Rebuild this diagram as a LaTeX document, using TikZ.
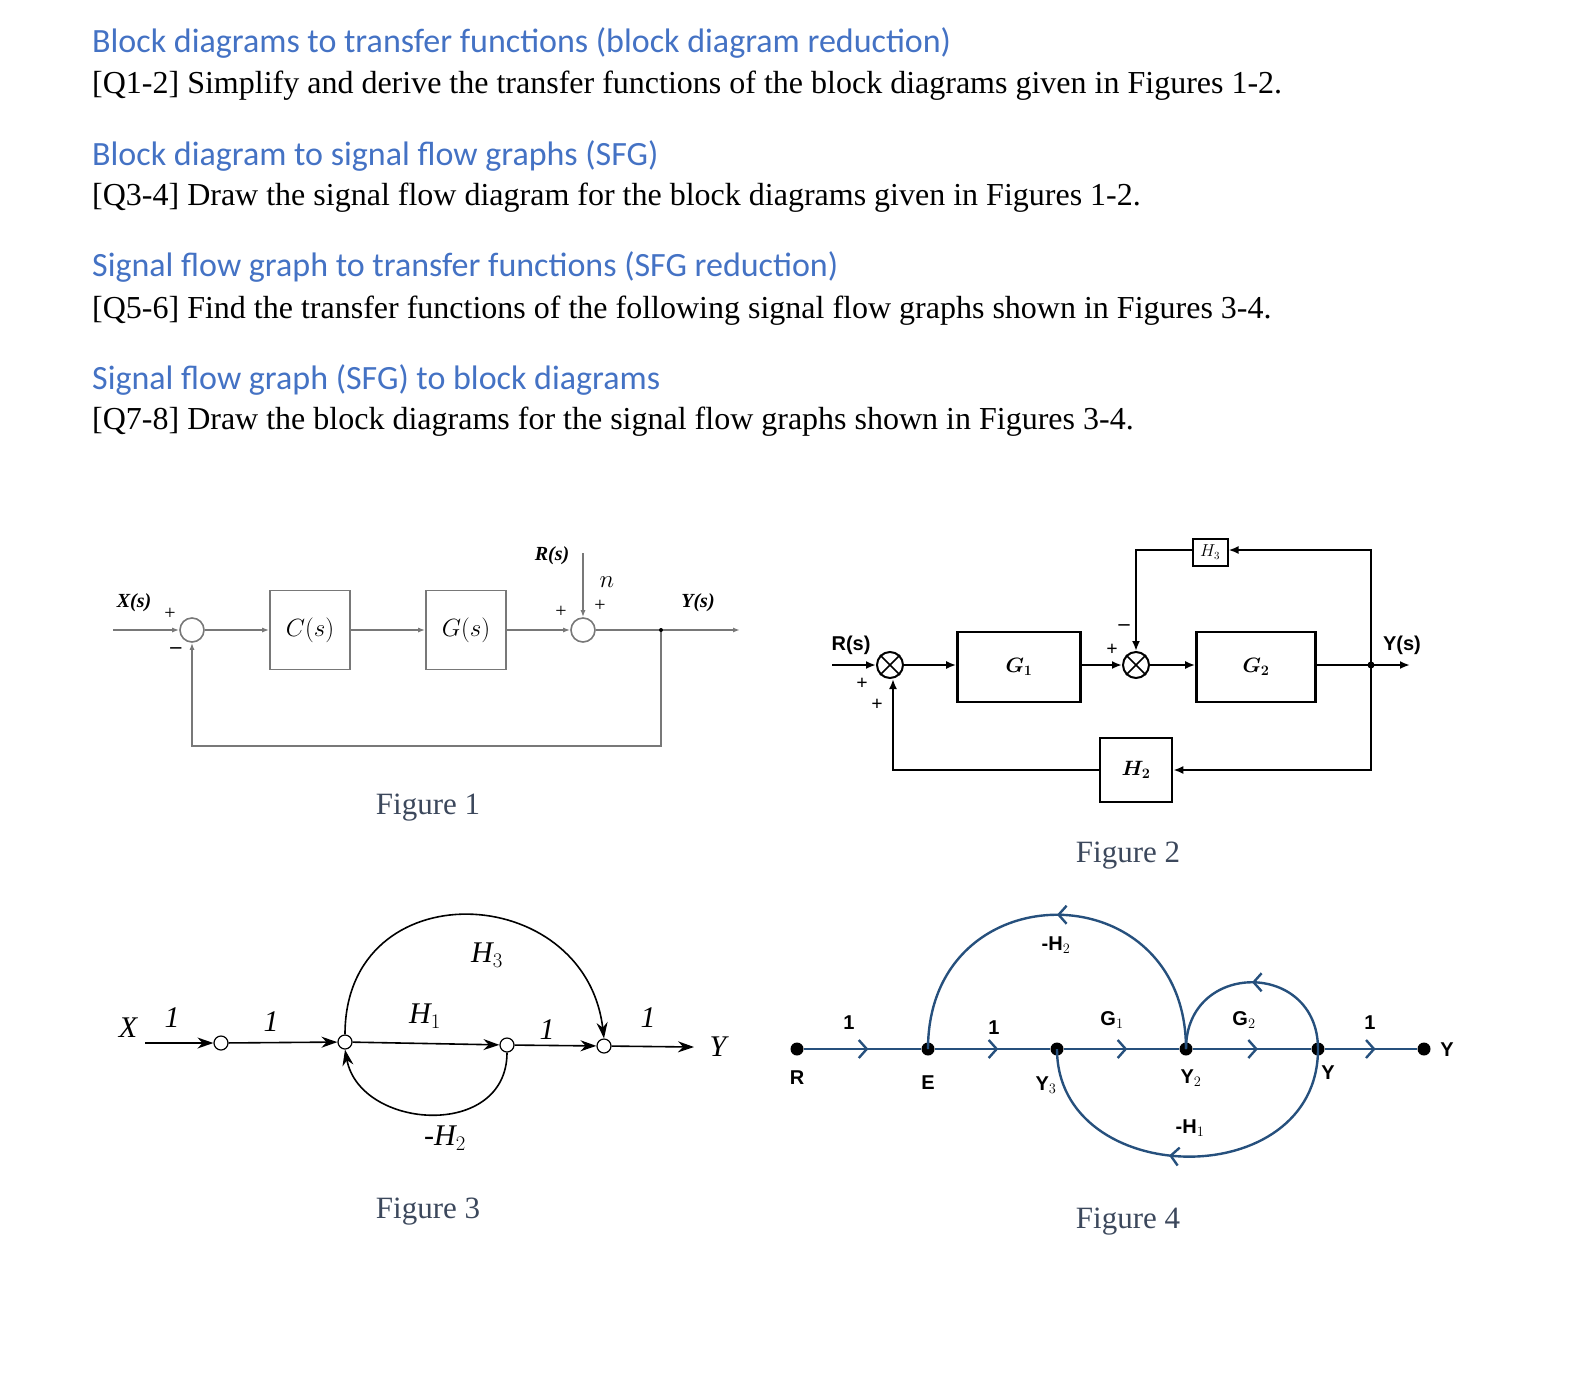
\documentclass[tikz,border=0pt]{standalone}
\usepackage{amsmath}
\usepackage{fontspec}
\setmainfont{Liberation Serif}
\newfontfamily\hfont{Carlito}
\newfontfamily\sfb{Liberation Sans}
\usetikzlibrary{arrows.meta,decorations.markings}
\definecolor{hblue}{RGB}{68,114,196}
\definecolor{sfgblue}{RGB}{38,80,125}
\definecolor{capc}{RGB}{60,72,92}
\definecolor{fgray}{RGB}{120,120,120}
\tikzset{
 head/.style={anchor=west,text=hblue,font=\hfont\fontsize{34}{40}\selectfont,inner sep=0},
 body/.style={anchor=west,font=\fontsize{32}{38}\selectfont,inner sep=0},
 figcap/.style={text=capc,font=\fontsize{31}{36}\selectfont},
 gline/.style={draw=fgray,line width=1.6pt},
 garr/.style={gline,-{Latex[length=7pt,width=5pt]}},
 gbox/.style={draw=fgray,line width=1.6pt,minimum width=80pt,minimum height=79pt,font=\fontsize{30}{30}\selectfont},
 glab/.style={font=\fontsize{20}{20}\selectfont\bfseries\itshape,inner sep=0},
 bline/.style={line width=2.6pt},
 barr/.style={bline,-{Latex[length=10pt,width=8pt]}},
 bbox/.style={draw,line width=2.6pt,font=\fontsize{22}{22}\selectfont},
 blab/.style={font=\sfb\bfseries\fontsize{20}{20}\selectfont,inner sep=0},
 tnode/.style={circle,draw,line width=1.2pt,fill=white,minimum size=14pt,inner sep=0},
 tarr/.style={line width=1.6pt,-{Stealth[length=16pt,width=11pt]}},
 tlab/.style={font=\itshape\fontsize{30}{30}\selectfont,inner sep=0},
 snode/.style={circle,fill=black,minimum size=13pt,inner sep=0},
 sline/.style={draw=sfgblue,line width=2.4pt},
 smid/.style={sline,postaction={decorate},decoration={markings,mark=at position #1 with {\arrow[sfgblue,line width=2.4pt]{Straight Barb[length=8pt,width=18pt]}}}},
 slab/.style={font=\sfb\bfseries\fontsize{20}{20}\selectfont,inner sep=0},
}
\begin{document}
\begin{tikzpicture}[x=1pt,y=-1pt]
\useasboundingbox (0,0) rectangle (1576,1374);
% texts
\node[head] (h1) at (92,43) {Block diagrams to transfer functions (block diagram reduction)};
\node[body] (b1) at (92,86) {[Q1-2] Simplify and derive the transfer functions of the block diagrams given in Figures 1-2.};
\node[head] (h2) at (92,156) {Block diagram to signal flow graphs (SFG)};
\node[body] (b2) at (92,198) {[Q3-4] Draw the signal flow diagram for the block diagrams given in Figures 1-2.};
\node[head] (h3) at (92,267) {Signal flow graph to transfer functions (SFG reduction)};
\node[body] (b3) at (92,311) {[Q5-6] Find the transfer functions of the following signal flow graphs shown in Figures 3-4.};
\node[head] (h4) at (92,380) {Signal flow graph (SFG) to block diagrams};
\node[body] (b4) at (92,422) {[Q7-8] Draw the block diagrams for the signal flow graphs shown in Figures 3-4.};

% ---------- Figure 1
\coordinate (f1in) at (113,630);
\node[circle,draw=fgray,line width=1.6pt,minimum size=24pt,inner sep=0] (s1) at (192,630) {};
\node[gbox] (C) at (310,630) {$C(s)$};
\node[gbox] (G) at (466,630) {$G(s)$};
\node[circle,draw=fgray,line width=1.6pt,minimum size=24pt,inner sep=0] (s2) at (583,630) {};
\coordinate (f1R) at (583,553);
\coordinate (f1b) at (661,630);
\coordinate (f1out) at (740,630);
\coordinate (f1d1) at (661,746);
\coordinate (f1d2) at (192,746);
\draw[garr] (f1in) -- (s1);
\draw[garr] (s1) -- (C);
\draw[garr] (C) -- (G);
\draw[garr] (G) -- (s2);
\draw[garr] (f1R) -- (s2);
\draw[garr] (s2) -- (f1out);
\draw[garr] (f1b) -- (f1d1) -- (f1d2) -- (s1);
\fill (f1b) circle (2pt);
\node[glab] (lx) at (134,603) {X(s)};
\node[font=\fontsize{20}{20}\selectfont] (p1) at (170,614) {+};
\node[font=\fontsize{22}{22}\selectfont] (m1) at (176,651) {\textbf{--}};
\node[font=\fontsize{20}{20}\selectfont] (p2) at (561,612) {+};
\node[font=\fontsize{20}{20}\selectfont] (p3) at (600,606) {+};
\node[font=\fontsize{24}{24}\selectfont] (ln) at (607,582) {$n$};
\node[glab] (lR) at (552,556) {R(s)};
\node[glab] (lY) at (698,603) {Y(s)};
\node[figcap] (c1) at (428,808) {Figure 1};

% ---------- Figure 2
\coordinate (f2in) at (832,665);
\node[circle,draw,line width=2pt,minimum size=26pt,inner sep=0] (x1) at (890,665) {};
\draw[line width=1.6pt] (x1.north west)--(x1.south east) (x1.north east)--(x1.south west);
\node[bbox,minimum width=123pt,minimum height=70pt] (G1) at (1019,667) {$\boldsymbol{G_1}$};
\node[circle,draw,line width=2pt,minimum size=26pt,inner sep=0] (x2) at (1136,665) {};
\draw[line width=1.6pt] (x2.north west)--(x2.south east) (x2.north east)--(x2.south west);
\node[bbox,minimum width=119pt,minimum height=70pt] (G2) at (1256,667) {$\boldsymbol{G_2}$};
\node[bbox,minimum width=35pt,minimum height=27pt,line width=2pt,font=\fontsize{16}{16}\selectfont] (H3) at (1210,552) {$H_3$};
\node[bbox,minimum width=72pt,minimum height=64pt] (H2) at (1136,770) {$\boldsymbol{H_2}$};
\coordinate (f2b) at (1371,665);
\coordinate (f2out) at (1410,665);
\coordinate (f2t) at (1371,550);
\coordinate (f2tl) at (1136,550);
\coordinate (f2bt) at (1371,770);
\coordinate (f2bl) at (893,770);
\draw[barr] (f2in) -- (x1);
\draw[barr] (x1) -- (G1.west|-x1);
\draw[barr] (G1.east|-x2) -- (x2);
\draw[barr] (x2) -- (G2.west|-x2);
\draw[barr] (G2.east|-f2b) -- (f2out);
\draw[barr] (f2b) -- (f2t) -- (H3.east|-f2t);
\draw[barr] (H3.west|-f2t) -- (f2tl) -- (x2);
\draw[barr] (f2b) -- (f2bt) -- (H2.east|-f2bt);
\draw[barr] (H2.west|-f2bt) -- (f2bl) -- (x1.south-|f2bl);
\fill (f2b) circle (3.5pt);
\node[blab] (lR2) at (851,645) {R(s)};
\node[blab] (lY2) at (1402,645) {Y(s)};
\node[font=\bfseries\fontsize{20}{20}\selectfont] (p4) at (862,684) {+};
\node[font=\bfseries\fontsize{20}{20}\selectfont] (p5) at (877,705) {+};
\node[font=\bfseries\fontsize{22}{22}\selectfont] (m2) at (1124,628) {--};
\node[font=\bfseries\fontsize{20}{20}\selectfont] (p6) at (1112,650) {+};
\node[figcap] (c2) at (1128,856) {Figure 2};

% ---------- Figure 3
\coordinate (f3in) at (145,1043);
\node[tnode] (n1) at (221,1043) {};
\node[tnode] (n2) at (345,1042) {};
\node[tnode] (n3) at (507,1045) {};
\node[tnode] (n4) at (604,1046) {};
\coordinate (f3out) at (694,1047);
\draw[tarr] (f3in) -- (n1);
\draw[tarr] (n1) -- (n2);
\draw[tarr] (n2) -- (n3);
\draw[tarr] (n3) -- (n4);
\draw[tarr] (n4) -- (f3out);
\draw[tarr] (n2.north) .. controls (345,870) and (585,880) .. (n4.north);
\draw[tarr] (n3.south) .. controls (507,1140) and (360,1130) .. (n2.south);
\node[tlab] (t1) at (128,1028) {X};
\node[tlab] (t2) at (172,1018) {1};
\node[tlab] (t3) at (271,1022) {1};
\node[tlab] (t4) at (425,1016) {H$_{1}$};
\node[tlab] (t5) at (547,1030) {1};
\node[tlab] (t6) at (648,1018) {1};
\node[tlab] (t7) at (487,955) {H$_{3}$};
\node[tlab] (t8) at (445,1138) {-H$_{2}$};
\node[tlab] (t9) at (718,1047) {Y};
\node[figcap] (c3) at (428,1212) {Figure 3};

% ---------- Figure 4
\node[snode] (R) at (797,1049) {};
\node[snode] (E) at (928,1049) {};
\node[snode] (Y3) at (1057,1049) {};
\node[snode] (Y2) at (1186,1049) {};
\node[snode] (Yn) at (1318,1049) {};
\node[snode] (Yo) at (1424,1049) {};
\draw[smid=0.55] (R) -- (E);
\draw[smid=0.55] (E) -- (Y3);
\draw[smid=0.55] (Y3) -- (Y2);
\draw[smid=0.55] (Y2) -- (Yn);
\draw[smid=0.55] (Yn) -- (Yo);
\draw[smid=0.5] (Y2.center) .. controls (1186,870) and (928,870) .. (E.center);
\draw[smid=0.5] (Yn.center) .. controls (1318,960) and (1186,960) .. (Y2.center);
\draw[smid=0.55] (Yn.center) .. controls (1318,1195) and (1057,1190) .. (Y3.center);
\node[slab] (lR4) at (797,1078) {R};
\node[slab] (lE4) at (928,1083) {E};
\node[slab] (lY34) at (1046,1085) {Y$_3$};
\node[slab] (lY24) at (1191,1078) {Y$_2$};
\node[slab] (lY4) at (1328,1073) {Y};
\node[slab] (lYo4) at (1447,1050) {Y};
\node[slab] (e1) at (849,1023) {1};
\node[slab] (e2) at (994,1028) {1};
\node[slab] (e3) at (1112,1020) {G$_1$};
\node[slab] (e4) at (1244,1020) {G$_2$};
\node[slab] (e5) at (1370,1023) {1};
\node[slab] (e6) at (1056,945) {-H$_2$};
\node[slab] (e7) at (1190,1128) {-H$_1$};
\node[figcap] (c4) at (1128,1222) {Figure 4};
\end{tikzpicture}
\end{document}
